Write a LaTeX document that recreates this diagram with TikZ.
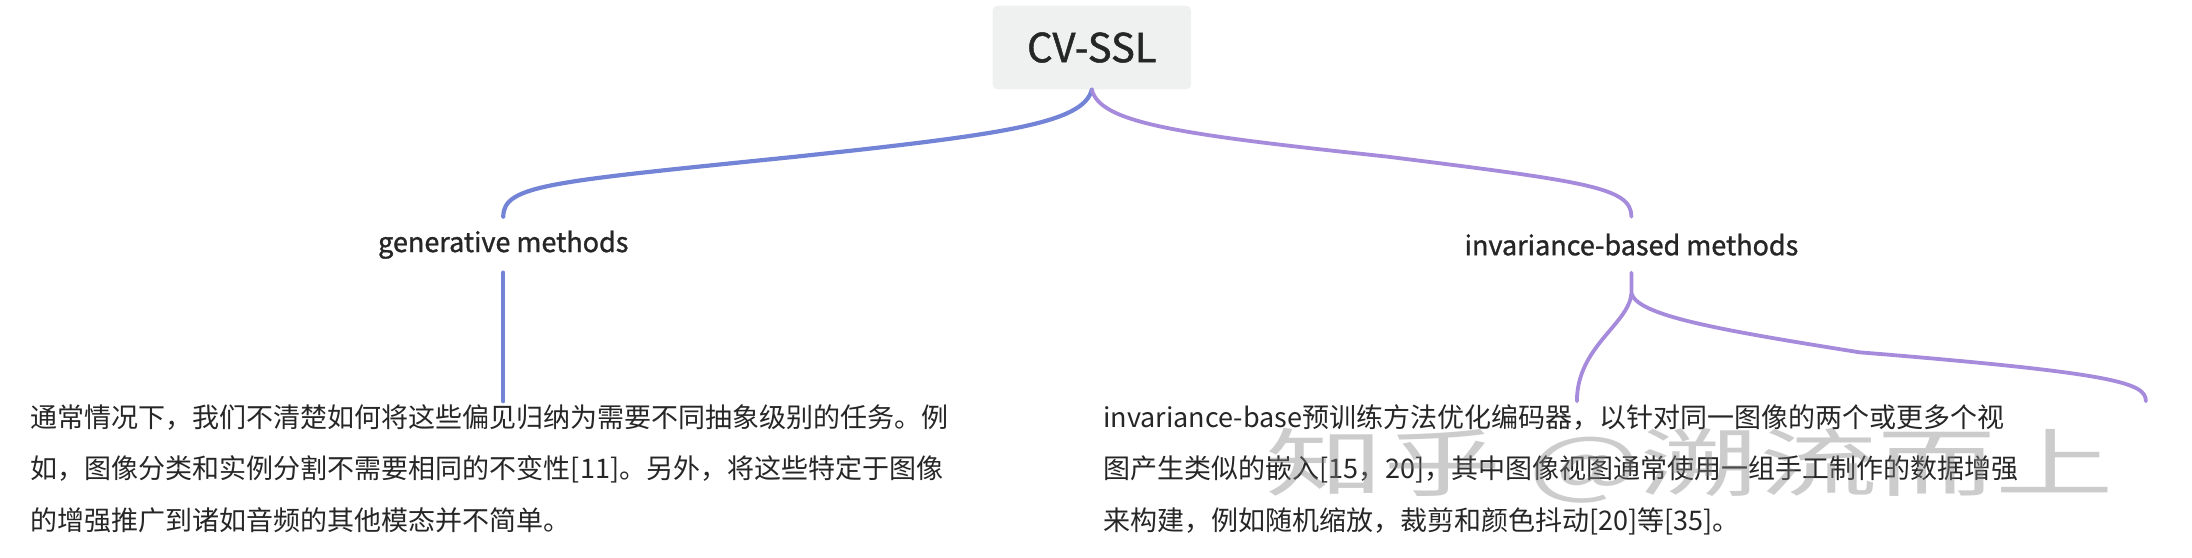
\documentclass[tikz,border=0pt]{standalone}
\usepackage{fontspec}
\setmainfont{Noto Sans CJK SC}
\begin{document}
\begin{tikzpicture}[x=1.398pt,y=-1.398pt,
  lb/.style={draw=blueL,line width=4.2pt,line cap=round},
  rb/.style={draw=purpL,line width=3.8pt,line cap=round},
  body/.style={anchor=north west,align=left,inner sep=0pt,text=txt,font=\fontsize{27}{51.5}\selectfont},
  head/.style={text=txt,font=\fontsize{27}{30}\selectfont\addfontfeatures{FakeBold=1.2}}]
\definecolor{blueL}{HTML}{7383D6}
\definecolor{purpL}{HTML}{A68ADB}
\definecolor{txt}{HTML}{262626}
\definecolor{boxbg}{HTML}{EFF0F0}
\useasboundingbox (0,0) rectangle (1568,399.1);
\node[fill=boxbg,rounded corners=5pt,minimum width=142*1.398pt,minimum height=60*1.398pt,text=txt,font=\fontsize{40}{44}\selectfont\addfontfeatures{FakeBold=1.2}] (root) at (781,34) {CV-SSL};
\node[head] (gen) at (360,175) {generative methods};
\node[head] (inv) at (1167,175) {invariance-based methods};
\coordinate (g1) at (360,155);
\coordinate (i1) at (1167,155);
\coordinate (g2) at (360,195);
\coordinate (g3) at (360,287);
\coordinate (i2) at (1167,195);
\coordinate (i3) at (1167,210);
\coordinate (ia) at (1128,287);
\coordinate (ib) at (1535,287);
\draw[lb] (root.south) .. controls (775,88) and (720,96) .. (570,112) .. controls (395,130) and (360,132) .. (g1);
\draw[rb] (root.south) .. controls (787,88) and (842,96) .. (992,112) .. controls (1135,130) and (1167,134) .. (i1);
\draw[lb] (g2) -- (g3);
\draw[rb] (i2) -- (i3) .. controls (1165,232) and (1128,248) .. (ia);
\draw[rb] (i3) .. controls (1172,226) and (1230,236) .. (1330,252) .. controls (1515,267) and (1535,274) .. (ib);
\node[body] (lt) at (22,289) {通常情况下，我们不清楚如何将这些偏见归纳为需要不同抽象级别的任务。例\\如，图像分类和实例分割不需要相同的不变性[11]。另外，将这些特定于图像\\的增强推广到诸如音频的其他模态并不简单。};
\node[body] (rt) at (789,289) {invariance-base预训练方法优化编码器，以针对同一图像的两个或更多个视\\图产生类似的嵌入[15，20]，其中图像视图通常使用一组手工制作的数据增强\\来构建，例如随机缩放，裁剪和颜色抖动[20]等[35]。};
\node[text=gray,opacity=0.4,font=\fontsize{74}{80}\selectfont,anchor=west,xscale=1.6,inner sep=0pt] (wm) at (905,333) {知乎 @溯流而上};
\end{tikzpicture}
\end{document}
